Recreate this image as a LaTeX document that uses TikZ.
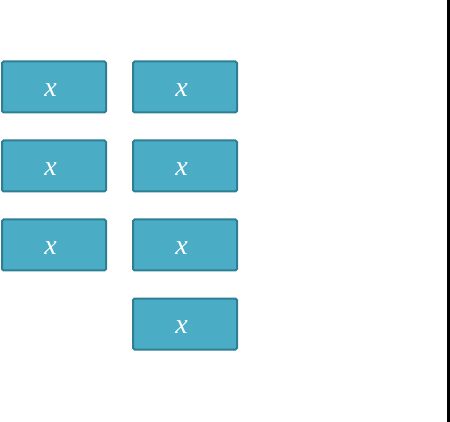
\documentclass[tikz,border=0pt]{standalone}
\usepackage{fontspec}
\usepackage{tikz}
\newfontfamily\cellFont{Liberation Serif}
\definecolor{cellFill}{RGB}{75, 172, 198}
\definecolor{cellEdge}{RGB}{46, 126, 148}
\begin{document}
\begin{tikzpicture}[
    x=1pt, y=-1pt,
    cellBox/.style={draw=cellEdge, fill=cellFill, line width=2pt, rounded corners=1.5pt,
        minimum width=104pt, minimum height=51pt, inner sep=0pt,
        text height=20pt, text depth=0pt,
        text=white, font=\cellFont\itshape\fontsize{28}{32}\selectfont},
    wallLine/.style={line width=3pt, draw=black}
]
    \useasboundingbox (0,0) rectangle (450,422);

    % ---------------- left column ----------------
    \foreach \i/\y in {1/87, 2/166, 3/245} {
        \node[cellBox] (left\i) at (54, \y) {\hspace*{-7pt}x};
    }

    % ---------------- right column ----------------
    \foreach \i/\y in {1/87, 2/166, 3/245, 4/324} {
        \node[cellBox] (right\i) at (185, \y) {\hspace*{-7pt}x};
    }

    % ---------------- right wall ----------------
    \coordinate (wallTop) at (448.5, 0);
    \coordinate (wallBot) at (448.5, 422);
    \draw[wallLine] (wallTop) -- (wallBot);

\end{tikzpicture}
\end{document}
